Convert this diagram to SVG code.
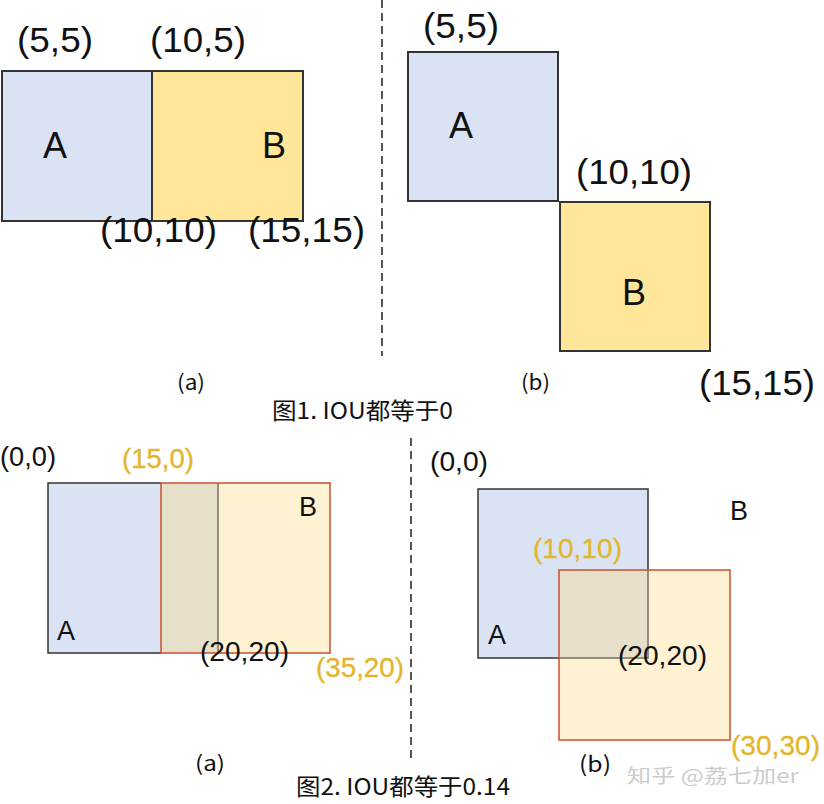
<svg xmlns="http://www.w3.org/2000/svg" width="824" height="804" viewBox="0 0 824 804">
<style>
.box{stroke:#333;stroke-width:2}
.blue{fill:#dae3f3}
.yel{fill:#ffe699}
.bf{fill:#fff2d2}
.bs{fill:none;stroke:#c9502e;stroke-width:1.5}
.ov{fill:#e6e0cb}
.as{fill:none;stroke:#333;stroke-width:1.5}
.big{font-family:"Liberation Sans",Arial,sans-serif;font-size:35px;fill:#111}
.lab{font-family:"Liberation Sans",Arial,sans-serif;font-size:36px;fill:#111}
.sm{font-family:"Liberation Sans",Arial,sans-serif;font-size:27px;fill:#111}
.gold{fill:#e3b52c;stroke:#e3b52c;stroke-width:0.3}
.cap{font-family:"Noto Sans CJK SC","Noto Sans",sans-serif;fill:#111}
.dash{stroke:#555;stroke-width:2;stroke-dasharray:8 5;fill:none}
</style>
<rect width="824" height="804" fill="#fff"/>

<g id="dividers">
<line class="dash" x1="382" y1="0" x2="382" y2="356"/>
<line class="dash" x1="411" y1="438" x2="411" y2="762"/>
</g>

<g id="fig1a">
<g id="fig1a-A"><rect class="box blue" x="2" y="71" width="150" height="150"/><text class="lab" x="43" y="158">A</text></g>
<g id="fig1a-B"><rect class="box yel" x="152" y="71" width="151" height="150"/><text class="lab" x="262" y="158">B</text></g>
<text class="big" x="17" y="52" textLength="76" lengthAdjust="spacingAndGlyphs">(5,5)</text>
<text class="big" x="150" y="52" textLength="96" lengthAdjust="spacingAndGlyphs">(10,5)</text>
<text class="big" x="100" y="242" textLength="117" lengthAdjust="spacingAndGlyphs">(10,10)</text>
<text class="big" x="248" y="242" textLength="117" lengthAdjust="spacingAndGlyphs">(15,15)</text>
<text class="cap" x="177" y="390" font-size="21" textLength="28" lengthAdjust="spacingAndGlyphs">(a)</text>
</g>

<g id="fig1b">
<g id="fig1b-A"><rect class="box blue" x="408" y="52" width="150" height="149"/><text class="lab" x="449" y="138">A</text></g>
<g id="fig1b-B"><rect class="box yel" x="560" y="202" width="150" height="149"/><text class="lab" x="622" y="305">B</text></g>
<text class="big" x="423" y="38" textLength="76" lengthAdjust="spacingAndGlyphs">(5,5)</text>
<text class="big" x="576" y="184" font-size="36" textLength="116" lengthAdjust="spacingAndGlyphs">(10,10)</text>
<text class="big" x="699" y="395" font-size="37" textLength="116" lengthAdjust="spacingAndGlyphs">(15,15)</text>
<text class="cap" x="521" y="390" font-size="21" textLength="29" lengthAdjust="spacingAndGlyphs">(b)</text>
</g>

<text id="caption1" class="cap" x="272" y="419" font-size="23" textLength="181" lengthAdjust="spacingAndGlyphs">图1. IOU都等于0</text>

<g id="fig2a">
<g id="fig2a-A"><rect class="blue" x="48" y="483" width="170" height="170"/></g>
<g id="fig2a-B"><rect class="bf" x="161" y="483" width="169" height="170"/></g>
<rect class="ov" x="161" y="483" width="57" height="170"/>
<path class="as" d="M161 483 H48 V653 H161"/>
<line x1="218" y1="483" x2="218" y2="653" stroke="#776f5e" stroke-width="1.5"/>
<rect class="bs" x="161" y="483" width="169" height="170"/>
<text class="sm" x="299" y="516">B</text>
<text class="sm" x="57" y="640">A</text>
<text class="sm" x="0" y="466" textLength="56" lengthAdjust="spacingAndGlyphs">(0,0)</text>
<text class="sm gold" x="122" y="468" textLength="72" lengthAdjust="spacingAndGlyphs">(15,0)</text>
<text class="sm" x="200" y="661" textLength="89" lengthAdjust="spacingAndGlyphs">(20,20)</text>
<text class="sm gold" x="316" y="677" textLength="88" lengthAdjust="spacingAndGlyphs">(35,20)</text>
<text class="cap" x="195" y="771" font-size="21" textLength="30" lengthAdjust="spacingAndGlyphs">(a)</text>
</g>

<g id="fig2b">
<g id="fig2b-A"><rect class="blue" x="478" y="489" width="170" height="169"/></g>
<g id="fig2b-B"><rect class="bf" x="559" y="570" width="171" height="170"/></g>
<rect class="ov" x="559" y="570" width="89" height="88"/>
<path class="as" d="M648 570 V489 H478 V658 H559"/>
<path d="M648 570 V658 H559" fill="none" stroke="#776f5e" stroke-width="1.5"/>
<rect class="bs" x="559" y="570" width="171" height="170"/>
<text class="sm" x="730" y="520">B</text>
<text class="sm" x="488" y="644">A</text>
<text class="sm" x="430" y="471" textLength="58" lengthAdjust="spacingAndGlyphs">(0,0)</text>
<text class="sm gold" x="533" y="558" textLength="89" lengthAdjust="spacingAndGlyphs">(10,10)</text>
<text class="sm" x="618" y="665" textLength="89" lengthAdjust="spacingAndGlyphs">(20,20)</text>
<text class="sm gold" x="731" y="755" textLength="89" lengthAdjust="spacingAndGlyphs">(30,30)</text>
<text class="cap" x="579" y="772" font-size="22" textLength="32" lengthAdjust="spacingAndGlyphs">(b)</text>
<text class="cap" x="627" y="783" font-size="19" style="fill:#cccccc" textLength="172" lengthAdjust="spacingAndGlyphs">知乎 @荔七加er</text>
</g>

<text id="caption2" class="cap" x="296" y="795" font-size="23" textLength="214" lengthAdjust="spacingAndGlyphs">图2. IOU都等于0.14</text>
</svg>
